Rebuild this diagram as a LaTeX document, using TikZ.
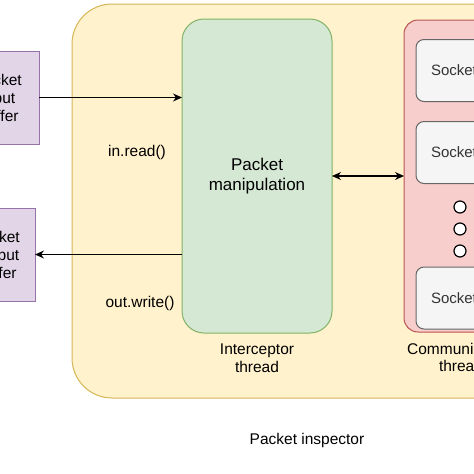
\documentclass[tikz,border=0pt]{standalone}
\usepackage{fontspec}
\setmainfont{Liberation Sans}
\usetikzlibrary{positioning,arrows.meta}
\definecolor{inspFill}{HTML}{FFF2CC}
\definecolor{inspLine}{HTML}{D6B656}
\definecolor{manipFill}{HTML}{D5E8D4}
\definecolor{manipLine}{HTML}{82B366}
\definecolor{commFill}{HTML}{F8CECC}
\definecolor{commLine}{HTML}{B85450}
\definecolor{bufFill}{HTML}{E1D5E7}
\definecolor{bufLine}{HTML}{9673A6}
\definecolor{sockFill}{HTML}{F5F5F5}
\definecolor{sockLine}{HTML}{666666}
\definecolor{sockText}{HTML}{333333}

\begin{document}
\begin{tikzpicture}[
    x=1pt, y=-1pt,
    region/.style={draw=inspLine, fill=inspFill, line width=1pt, rounded corners=40pt, inner sep=0pt, outer sep=0pt},
    thread/.style={line width=1pt, inner sep=0pt, outer sep=0pt, align=center, font=\fontsize{17}{20}\selectfont},
    buf/.style={draw=bufLine, fill=bufFill, line width=1pt, inner sep=0pt, outer sep=0pt, align=center, font=\fontsize{15.5}{18}\selectfont},
    sock/.style={draw=sockLine, fill=sockFill, line width=1pt, rounded corners=8pt, text width=60pt, inner xsep=15pt, inner ysep=0pt, outer sep=0pt, minimum height=62pt, align=left, text=sockText, font=\fontsize{15}{17}\selectfont},
    lbl/.style={align=center, inner sep=0pt, font=\fontsize{15.5}{17.5}\selectfont},
    dot/.style={circle, draw, fill=white, line width=1.2pt, minimum size=12pt, inner sep=0pt},
    arr/.style={-{Stealth[length=9pt, width=8pt]}, line width=1.2pt}
]
\useasboundingbox (0,0) rectangle (474,474);
\clip (0,0) rectangle (474,474);

\node[region, minimum width=488pt, minimum height=394pt] (insp) at (316,201) {};

\node[thread, draw=manipLine, fill=manipFill, rounded corners=22pt, minimum width=150pt, minimum height=314pt] (manip) at (257,176) {Packet\\manipulation};
\node[thread, draw=commLine, fill=commFill, rounded corners=14pt, minimum width=114pt, minimum height=312pt] (comm) at (461,176) {};

\node[sock] (s1) at (461,70.5) {Socket};
\node[sock] (s2) at (461,152.5) {Socket};
\node[sock] (s3) at (461,298) {Socket};
\foreach \yy in {207,229,251}
    \node[dot] (d\yy) at (460,\yy) {};

\node[buf, minimum width=82pt, minimum height=93pt] (inbuf) at (-2,97.5) {Packet\\Input\\Buffer};
\node[buf, minimum width=78pt, minimum height=93pt] (outbuf) at (-4,254.5) {Packet\\Output\\Buffer};

\draw[arr] (inbuf.east) -- (inbuf.east -| manip.west);
\draw[arr] (manip.west |- outbuf.east) -- (outbuf.east);
\draw[arr, {Stealth[length=9pt, width=8pt]}-{Stealth[length=9pt, width=8pt]}] (manip.east) -- (comm.west);

\node[lbl] (rd) at (137,152) {in.read()};
\node[lbl] (wr) at (140,303) {out.write()};
\node[lbl, below=11pt of manip] (ithr) {Interceptor\\thread};
\node[lbl, below=11pt of comm] (cthr) {Communication\\thread};
\node[lbl] (title) at (307,440) {Packet inspector};

\end{tikzpicture}
\end{document}
